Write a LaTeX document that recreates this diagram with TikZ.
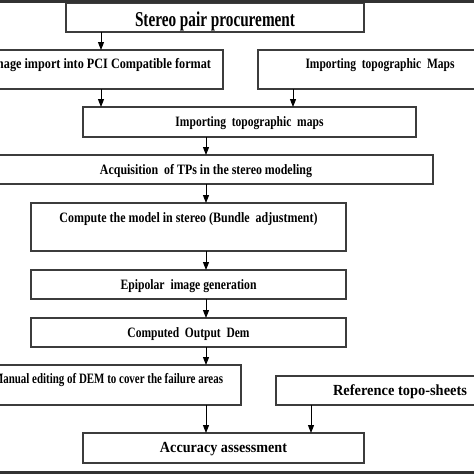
\documentclass[tikz,border=0pt]{standalone}
\usepackage{fontspec}
\setmainfont{Liberation Serif}
\usetikzlibrary{arrows.meta}
\definecolor{boxline}{RGB}{60,60,60}
\definecolor{band}{RGB}{50,50,50}
\newcommand\btxt[2]{{\fontsize{11}{13}\selectfont\bfseries\resizebox{#1pt}{1.3\height}{#2}}}
\newcommand\rtxt[2]{{\fontsize{14}{16}\selectfont\bfseries\resizebox{#1pt}{1.1\height}{#2}}}
\begin{document}
\begin{tikzpicture}[x=1pt,y=-1pt,
  box/.style={draw=boxline, line width=1.2pt, fill=white, inner sep=0pt, outer sep=0pt, anchor=base, align=center},
  arr/.style={draw=black, line width=1pt, -{Triangle[length=8pt,width=6pt]}}]
\useasboundingbox (0,0) rectangle (474,474);
\clip (0,0) rectangle (474,474);
\fill[white] (0,0) rectangle (474,474);
% boxes: at (center x, baseline y); text height = baseline-top, depth = bottom-baseline
\node[box, minimum width=298, text height=23, text depth=6] (n1) at (215,26)
  {{\fontsize{16}{18}\selectfont\bfseries\resizebox{160pt}{1.32\height}{Stereo pair procurement}}};
\node[box, minimum width=246, text height=18, text depth=21] (n2) at (100,68)
  {\btxt{222}{Image import into PCI Compatible format}};
\node[box, minimum width=244, text height=18, text depth=21] (n3) at (380,68)
  {\btxt{149}{Importing\ \ topographic\ \ Maps}};
\node[box, minimum width=333, text height=19, text depth=11] (n4) at (249.5,126)
  {\btxt{148}{Importing\ \ topographic\ \ maps}};
\node[box, minimum width=454, text height=19, text depth=10] (n5) at (206,174)
  {\btxt{212}{Acquisition\ \ of TPs in the stereo modeling}};
\node[box, minimum width=315, text height=19, text depth=29] (n6) at (188.5,222)
  {\btxt{258}{Compute the model in stereo (Bundle\ \ adjustment)}};
\node[box, minimum width=315, text height=19, text depth=10] (n7) at (188.5,289)
  {\btxt{136}{Epipolar\ \ image generation}};
\node[box, minimum width=315, text height=19, text depth=10] (n8) at (188.5,337)
  {\btxt{122}{Computed\ \ Output\ \ Dem}};
\node[box, minimum width=266, text height=18, text depth=22] (n9) at (108,383)
  {\btxt{230}{Manual editing of DEM to cover the failure areas}};
\node[box, minimum width=248, text height=19, text depth=10] (n10) at (400,395)
  {\rtxt{134}{Reference topo-sheets}};
\node[box, minimum width=281, text height=19, text depth=11] (n11) at (223.5,452)
  {\rtxt{127}{Accuracy assessment}};
% arrow x positions
\coordinate (xa) at (101,0);
\coordinate (xb) at (293,0);
\coordinate (xc) at (206,0);
\coordinate (xd) at (311,0);
\draw[arr] (n1.south -| xa) -- (n2.north -| xa);
\draw[arr] (n2.south -| xa) -- (n4.north -| xa);
\draw[arr] (n3.south -| xb) -- (n4.north -| xb);
\draw[arr] (n4.south -| xc) -- (n5.north -| xc);
\draw[arr] (n5.south -| xc) -- (n6.north -| xc);
\draw[arr] (n6.south -| xc) -- (n7.north -| xc);
\draw[arr] (n7.south -| xc) -- (n8.north -| xc);
\draw[arr] (n8.south -| xc) -- (n9.north -| xc);
\draw[arr] (n9.south -| xc) -- (n11.north -| xc);
\draw[arr] (n10.south -| xd) -- (n11.north -| xd);
% dark bands at top and bottom
\fill[band] (0,0) rectangle (474,2.5);
\fill[band] (0,471) rectangle (474,474);
\end{tikzpicture}
\end{document}
